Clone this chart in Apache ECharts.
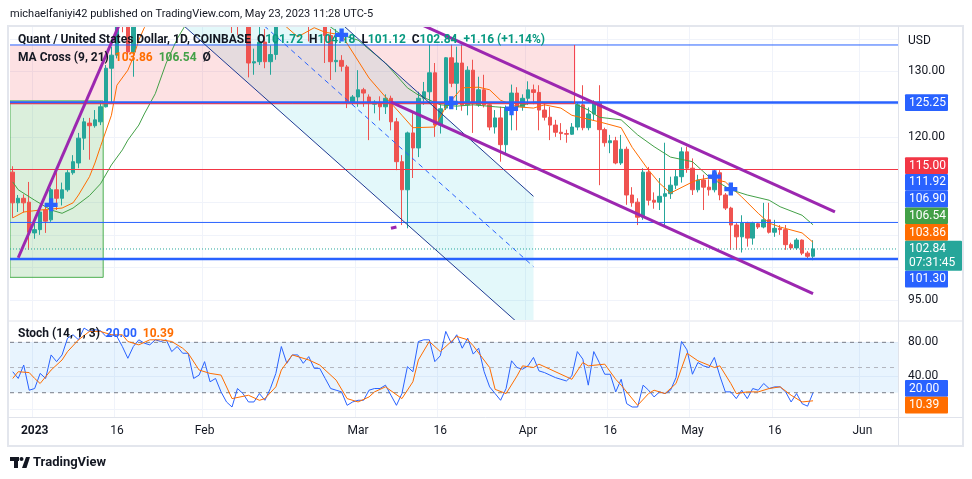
<!DOCTYPE html>
<html>
<head>
<meta charset="utf-8">
<title>QNT/USD 1D</title>
<script src="https://cdn.jsdelivr.net/npm/echarts@6.0.0/dist/echarts.min.js"></script>
<style>
  html, body { margin: 0; padding: 0; background: #ffffff; }
  #main { width: 972px; height: 479px; }
</style>
</head>
<body>
<div id="main"></div>
<script>
// Quant / United States Dollar, 1D, COINBASE - one candle a day from 2022-12-28
var firstDay = '2022-12-28';
var dayCount = 162;   // the time scale runs on into early June

// [open, close, low, high]
var candles = [
  // Dec 28 - 31
  [114.6, 109.9, 107.6, 115.5], [109.9, 110.6, 108.5, 111.1], [110.6, 109.9, 108.4, 111.2], [110.0, 105.4, 102.7, 113.1],
  // Jan
  [105.3, 105.8, 104.4, 107.0], [105.8, 108.5, 105.0, 109.1], [108.8, 107.1, 105.3, 109.6], [107.3, 111.9, 107.0, 112.2],
  [111.9, 110.6, 108.8, 114.6], [110.6, 111.9, 109.5, 113.0], [111.9, 114.5, 111.6, 114.9], [114.5, 116.2, 114.2, 117.2],
  [116.0, 119.8, 115.2, 120.6], [119.8, 122.3, 118.0, 122.9], [122.1, 121.7, 116.5, 122.9], [121.7, 122.6, 121.4, 124.1],
  [122.3, 124.6, 121.8, 125.5], [124.6, 130.5, 124.5, 131.0], [130.5, 132.5, 125.2, 133.8], [132.5, 140.0, 132.0, 141.5],
  [140.0, 137.5, 136.0, 142.0], [137.5, 133.0, 132.0, 139.0], [133.0, 141.5, 129.2, 143.0], [141.5, 137.5, 136.9, 143.5],
  [137.5, 140.0, 137.2, 141.5], [140.0, 139.0, 137.0, 142.0], [139.0, 143.0, 138.5, 144.5], [143.0, 146.0, 142.0, 148.0],
  [146.0, 144.5, 143.0, 147.5], [144.5, 148.0, 143.5, 150.0], [148.0, 146.5, 145.0, 149.5], [146.5, 149.5, 145.5, 151.0],
  [149.5, 147.0, 146.0, 151.5], [147.0, 144.0, 143.0, 148.0], [144.0, 146.0, 142.5, 147.5],
  // Feb
  [146.0, 148.5, 145.0, 150.0], [148.5, 145.0, 144.0, 149.5], [145.0, 146.5, 143.5, 148.0], [146.5, 143.0, 142.0, 147.5],
  [143.0, 144.5, 141.5, 146.0], [144.5, 140.0, 135.9, 145.5], [140.0, 137.5, 135.6, 141.0], [137.5, 139.5, 137.0, 141.0],
  [139.5, 131.3, 129.1, 140.5], [131.3, 131.5, 129.5, 133.5], [131.5, 134.5, 131.0, 137.0], [134.5, 131.5, 130.5, 136.5],
  [131.5, 132.6, 129.5, 134.0], [132.6, 137.5, 131.8, 139.0], [137.5, 139.5, 136.9, 141.0], [139.5, 141.0, 138.5, 142.5],
  [141.0, 139.0, 138.0, 142.0], [139.0, 141.5, 138.5, 143.0], [141.5, 139.0, 138.0, 142.5], [139.0, 137.5, 134.6, 140.0],
  [137.5, 139.0, 137.2, 140.5], [139.0, 138.0, 137.0, 140.0], [138.0, 135.5, 131.3, 139.0], [135.5, 131.5, 128.7, 136.5],
  [131.5, 131.7, 129.9, 136.5], [131.7, 130.8, 130.0, 132.5], [130.7, 125.3, 124.4, 131.0], [125.3, 126.1, 124.9, 126.4],
  // Mar
  [126.1, 127.2, 124.6, 130.2], [127.2, 126.7, 124.6, 127.5], [126.1, 125.3, 119.5, 126.5], [125.0, 125.3, 123.6, 125.6],
  [125.3, 124.6, 122.5, 126.2], [124.6, 125.9, 123.5, 126.5], [125.9, 122.3, 121.0, 126.3], [122.3, 116.2, 114.9, 122.9],
  [116.2, 111.9, 106.5, 117.2], [111.9, 120.6, 106.0, 120.8], [120.6, 118.3, 113.7, 123.8], [118.3, 125.9, 116.9, 126.9],
  [125.9, 126.9, 124.9, 128.4], [126.9, 129.8, 125.3, 134.1], [129.8, 121.8, 120.0, 131.3], [121.8, 124.3, 120.5, 125.0],
  [124.4, 132.1, 124.1, 132.2], [132.1, 128.2, 127.6, 134.1], [128.2, 131.3, 124.1, 133.8], [131.3, 124.9, 124.0, 134.1],
  [124.9, 130.2, 123.3, 130.8], [130.2, 125.2, 120.6, 131.8], [124.9, 127.2, 124.6, 129.2], [127.2, 124.9, 124.5, 129.5],
  [124.9, 121.5, 121.0, 125.0], [121.5, 122.9, 120.5, 124.1], [122.9, 118.8, 116.2, 124.6], [118.8, 124.4, 117.5, 124.8],
  [124.4, 126.7, 121.0, 128.0], [126.7, 124.6, 121.0, 127.6], [124.6, 125.9, 124.0, 126.5],
  // Apr
  [125.9, 127.2, 124.9, 128.5], [127.2, 126.8, 125.0, 128.0], [126.8, 124.1, 121.0, 127.9], [124.1, 123.0, 122.5, 125.3],
  [123.0, 121.8, 119.5, 124.6], [121.8, 120.7, 120.0, 122.6], [120.7, 120.5, 119.5, 122.1], [120.5, 120.4, 119.1, 121.1],
  [120.4, 121.5, 120.3, 122.1], [121.5, 124.9, 121.0, 125.3], [124.9, 121.4, 121.0, 127.9], [121.4, 123.5, 121.0, 124.5],
  [123.5, 125.3, 122.5, 125.6], [125.3, 121.1, 112.6, 127.9], [121.1, 119.1, 118.5, 121.4], [119.1, 119.4, 117.5, 120.3],
  [119.4, 116.0, 115.8, 120.0], [116.0, 118.1, 115.7, 120.3], [118.1, 111.1, 109.6, 118.5], [111.1, 109.9, 109.3, 112.3],
  [110.0, 107.7, 106.5, 110.6], [107.7, 114.6, 107.3, 115.2], [114.6, 110.3, 109.5, 115.4], [110.3, 110.0, 109.0, 111.5],
  [110.0, 110.9, 108.8, 113.7], [110.9, 111.3, 106.2, 119.1], [111.3, 112.6, 110.5, 113.9], [112.6, 113.9, 112.0, 115.0],
  [113.9, 117.7, 113.0, 118.4], [117.7, 115.2, 114.5, 118.5],
  // May 1 - 23
  [115.2, 111.9, 111.1, 116.7], [111.9, 113.4, 111.5, 114.2], [113.4, 112.3, 108.8, 114.2], [112.3, 111.9, 111.0, 113.5],
  [111.9, 114.5, 111.5, 115.0], [114.5, 111.1, 110.3, 114.9], [111.1, 109.1, 108.8, 111.4], [109.1, 106.5, 102.7, 109.3],
  [106.5, 104.7, 102.7, 106.8], [104.7, 106.8, 102.3, 108.0], [106.8, 104.5, 103.2, 107.0], [104.5, 106.8, 103.5, 107.0],
  [106.7, 106.2, 105.9, 106.9], [106.2, 107.3, 106.0, 109.9], [107.3, 105.4, 105.2, 109.9], [105.4, 106.0, 104.7, 107.3],
  [106.0, 105.8, 105.0, 106.5], [105.8, 103.5, 102.7, 106.5], [103.5, 103.0, 102.7, 103.8], [103.0, 104.2, 102.7, 104.5],
  [104.2, 102.2, 101.9, 104.3], [102.2, 101.72, 101.2, 102.5], [101.72, 102.84, 101.12, 104.18]
];

// MA Cross (9, 21)
var ma9 = [
  ['2022-12-28', 107.6], ['2022-12-30', 108.5], ['2023-01-02', 108.8], ['2023-01-06', 109.1], ['2023-01-08', 109.9],
  ['2023-01-09', 111.1], ['2023-01-11', 113.9], ['2023-01-12', 116.0], ['2023-01-13', 118.5], ['2023-01-15', 123.3],
  ['2023-01-16', 127.9], ['2023-01-18', 130.2], ['2023-01-19', 132.2], ['2023-01-20', 134.8], ['2023-01-21', 136.7],
  ['2023-01-24', 139.5], ['2023-01-29', 144.0], ['2023-02-04', 145.0], ['2023-02-10', 140.5], ['2023-02-15', 137.5],
  ['2023-02-18', 135.3], ['2023-02-21', 136.7], ['2023-02-23', 136.0], ['2023-02-26', 135.6], ['2023-03-03', 129.0],
  ['2023-03-06', 126.1], ['2023-03-09', 123.3], ['2023-03-11', 121.4], ['2023-03-15', 121.5], ['2023-03-17', 124.6],
  ['2023-03-20', 127.5], ['2023-03-23', 127.6], ['2023-03-25', 127.2], ['2023-03-27', 125.6], ['2023-03-30', 124.6],
  ['2023-04-02', 124.4], ['2023-04-04', 124.9], ['2023-04-07', 124.4], ['2023-04-09', 123.3], ['2023-04-14', 122.3],
  ['2023-04-18', 121.4], ['2023-04-20', 118.4], ['2023-04-23', 114.9], ['2023-04-25', 112.9], ['2023-04-27', 111.4],
  ['2023-05-01', 113.1], ['2023-05-02', 113.4], ['2023-05-04', 113.7], ['2023-05-07', 113.1], ['2023-05-10', 110.8],
  ['2023-05-13', 108.3], ['2023-05-15', 106.8], ['2023-05-17', 106.2], ['2023-05-21', 105.3], ['2023-05-23', 103.86]
];
var ma21 = [
  ['2022-12-28', 113.1], ['2022-12-29', 111.9], ['2023-01-01', 110.3], ['2023-01-04', 108.8], ['2023-01-06', 108.3],
  ['2023-01-08', 109.1], ['2023-01-11', 111.0], ['2023-01-13', 112.8], ['2023-01-15', 115.7], ['2023-01-17', 118.0],
  ['2023-01-18', 119.5], ['2023-01-20', 121.8], ['2023-01-21', 123.5], ['2023-01-23', 126.6], ['2023-01-25', 131.3],
  ['2023-01-27', 135.0], ['2023-01-29', 137.8], ['2023-02-04', 141.0], ['2023-02-11', 142.0], ['2023-02-18', 139.5],
  ['2023-02-24', 136.8], ['2023-02-26', 135.6], ['2023-03-01', 134.8], ['2023-03-06', 131.3], ['2023-03-10', 127.5],
  ['2023-03-12', 126.4], ['2023-03-16', 124.9], ['2023-03-19', 124.7], ['2023-03-22', 124.9], ['2023-03-26', 124.6],
  ['2023-03-29', 124.4], ['2023-04-02', 125.3], ['2023-04-06', 125.3], ['2023-04-09', 125.3], ['2023-04-12', 124.1],
  ['2023-04-14', 123.0], ['2023-04-18', 122.6], ['2023-04-21', 120.3], ['2023-04-24', 118.5], ['2023-04-27', 116.9],
  ['2023-05-01', 116.2], ['2023-05-04', 113.9], ['2023-05-08', 111.9], ['2023-05-11', 111.1], ['2023-05-15', 110.3],
  ['2023-05-17', 109.3], ['2023-05-21', 108.0], ['2023-05-23', 106.54]
];
var maCrosses = [
  ['2023-01-04', 109.6], ['2023-02-26', 135.6], ['2023-03-18', 125.2],
  ['2023-03-29', 124.3], ['2023-05-05', 113.9], ['2023-05-08', 112.0]
];

// Stoch (14, 1, 3): %K for every candle, %D read at its turning points
var stochK = [
  45, 37, 53, 23, 25, 43, 37, 65, 57, 65,
  85, 89, 83, 97, 93, 95, 94, 87, 89, 87,
  75, 61, 75, 83, 79, 77, 83, 81, 83, 69,
  75, 67, 67, 37, 41, 57, 33, 37, 21, 9,
  3, 25, 19, 9, 9, 19, 11, 25, 43, 75,
  55, 65, 65, 55, 63, 49, 49, 37, 25, 23,
  21, 5, 9, 11, 11, 23, 25, 25, 29, 17,
  5, 19, 51, 45, 81, 83, 83, 57, 64, 93,
  79, 89, 73, 85, 66, 73, 45, 27, 19, 11,
  25, 58, 50, 48, 52, 62, 46, 44, 41, 38,
  36, 34, 40, 69, 60, 29, 69, 56, 42, 42,
  21, 36, 7, 3, 3, 29, 23, 15, 21, 19,
  23, 38, 81, 71, 42, 56, 52, 50, 62, 40,
  21, 21, 13, 23, 13, 25, 23, 31, 25, 27,
  27, 21, 9, 19, 7, 4, 20
];
var stochD = [
  ['2022-12-28', 37], ['2022-12-29', 45], ['2022-12-31', 44], ['2023-01-01', 37], ['2023-01-02', 31],
  ['2023-01-04', 47], ['2023-01-06', 59], ['2023-01-07', 69], ['2023-01-09', 83], ['2023-01-11', 93],
  ['2023-01-13', 93], ['2023-01-15', 89], ['2023-01-17', 89], ['2023-01-18', 81], ['2023-01-20', 77],
  ['2023-01-22', 83], ['2023-01-24', 83], ['2023-01-26', 81], ['2023-01-28', 73], ['2023-01-29', 67],
  ['2023-01-31', 47], ['2023-02-02', 43], ['2023-02-04', 41], ['2023-02-06', 13], ['2023-02-09', 17],
  ['2023-02-11', 11], ['2023-02-12', 13], ['2023-02-14', 27], ['2023-02-15', 47], ['2023-02-17', 65],
  ['2023-02-20', 59], ['2023-02-22', 53], ['2023-02-25', 35], ['2023-02-27', 13], ['2023-03-01', 9],
  ['2023-03-03', 15], ['2023-03-04', 21], ['2023-03-06', 27], ['2023-03-09', 13], ['2023-03-11', 33],
  ['2023-03-12', 59], ['2023-03-14', 81], ['2023-03-16', 69], ['2023-03-19', 87], ['2023-03-21', 83],
  ['2023-03-22', 76], ['2023-03-25', 50], ['2023-03-26', 24], ['2023-03-28', 19], ['2023-03-30', 40],
  ['2023-03-31', 52], ['2023-04-02', 50], ['2023-04-03', 54], ['2023-04-05', 48], ['2023-04-09', 36],
  ['2023-04-11', 56], ['2023-04-12', 52], ['2023-04-15', 54], ['2023-04-17', 36], ['2023-04-18', 29],
  ['2023-04-21', 5], ['2023-04-23', 19], ['2023-04-24', 23], ['2023-04-26', 19], ['2023-04-28', 31],
  ['2023-04-30', 67], ['2023-05-02', 58], ['2023-05-05', 50], ['2023-05-06', 52], ['2023-05-08', 31],
  ['2023-05-09', 19], ['2023-05-11', 21], ['2023-05-13', 21], ['2023-05-15', 25], ['2023-05-17', 27],
  ['2023-05-19', 17], ['2023-05-21', 9], ['2023-05-23', 10.39]
];

// time scale
var timeTicks = ['2023-01-01', '2023-01-16', '2023-02-01', '2023-03-01', '2023-03-16',
                 '2023-04-01', '2023-04-16', '2023-05-01', '2023-05-16', '2023-06-01'];
var timeTickLabels = ['2023', '16', 'Feb', 'Mar', '16', 'Apr', '16', 'May', '16', 'Jun'];

// price scale (the rest of the labels sit under the tags)
var priceRange = [91.97, 136.81];
var priceTicks = [95, 100, 105, 110, 115, 120, 125, 130, 135];
var priceLabels = [95, 120, 130];
var stochRange = [-8.9, 104.2];
var stochTicks = [0, 40, 80];
var stochLabels = [40, 80];
var stochLevels = [80, 50, 20];

// drawings, anchored as [date, price]
var riseLine = [['2022-12-29', 101.5], ['2023-01-18', 140.2]];
var fallTop = [['2023-03-08', 138.9], ['2023-05-27', 108.5]];
var fallBottom = [['2023-03-07', 125.3], ['2023-05-23', 96.0]];
var fallStub = [['2023-03-07', 106.0], ['2023-03-08', 106.2]];
var channelLow = [['2023-01-27', 137.9], ['2023-04-02', 89.4]];
var channelHigh = [['2023-01-27', 159.9], ['2023-04-02', 110.9]];
var redZone = ['2023-04-09', 134.06, 125.07];    // right edge, top, bottom
var greenZone = ['2023-01-13', 125.5, 98.5];
var levels = [134.06, 125.25, 115.00, 106.90, 101.30];
var lastPrice = 102.84;

// price scale tags
var priceTags = [125.25, 115.00, 111.92, 106.90, 106.54, 103.86, 102.84, 101.30];
var stochTags = [20.00, 10.39];

// ---------------------------------------------------------------
var FONT = 'Roboto, "Liberation Sans", Arial, sans-serif';
var INK = '#131722';
var UP = '#26a69a', DOWN = '#ef5350';
var BLUE = '#2962ff', RED = '#f23645', ORANGE = '#ff6d00', GREEN = '#43a047';

var days = [];
(function () {
  var t0 = Date.parse(firstDay);
  for (var i = 0; i < dayCount; i++) days.push(new Date(t0 + i * 86400000).toISOString().slice(0, 10));
})();

function isTick(idx, val) { return timeTicks.indexOf(val) >= 0; }
function tickText(val) {
  var k = timeTicks.indexOf(val);
  var s = k >= 0 ? timeTickLabels[k] : '';
  return /^\d{4}$/.test(s) ? '{y|' + s + '}' : s;
}

function line(a, b, color, width, dash) {
  return { type: 'line', shape: { x1: a[0], y1: a[1], x2: b[0], y2: b[1] },
           style: { stroke: color, lineWidth: width, lineDash: dash || null } };
}
function paneClip(cs) {
  return { type: 'rect', shape: { x: cs.x, y: cs.y, width: cs.width, height: cs.height } };
}

function drawUnder(params, api) {
  var cs = params.coordSys;
  var half = api.size([1, 0])[0] / 2;
  var kids = [];
  kids.push({ type: 'polygon',
    shape: { points: [api.coord(channelLow[0]), api.coord(channelLow[1]), api.coord(channelHigh[1]), api.coord(channelHigh[0])] },
    style: { fill: 'rgba(0,188,212,0.11)' } });
  var r1 = api.coord([redZone[0], redZone[1]]), r2 = api.coord([redZone[0], redZone[2]]);
  kids.push({ type: 'rect', shape: { x: cs.x, y: r1[1], width: r1[0] + half - cs.x, height: r2[1] - r1[1] },
    style: { fill: 'rgba(242,54,69,0.15)' } });
  var g1 = api.coord([greenZone[0], greenZone[1]]), g2 = api.coord([greenZone[0], greenZone[2]]);
  kids.push({ type: 'rect', shape: { x: cs.x, y: g1[1], width: g1[0] + half - cs.x, height: g2[1] - g1[1] },
    style: { fill: 'rgba(76,175,80,0.2)', stroke: '#4caf50', lineWidth: 1 } });
  return { type: 'group', clipPath: paneClip(cs), children: kids };
}

function drawOver(params, api) {
  var cs = params.coordSys;
  var right = cs.x + cs.width;
  var half = api.size([1, 0])[0] / 2;
  var kids = [];
  var widths = [1, 2.5, 1, 1, 2.5];
  var colors = [BLUE, BLUE, RED, BLUE, BLUE];
  levels.forEach(function (v, k) {
    var y = api.coord([0, v])[1];
    kids.push(line([cs.x, y], [right, y], colors[k], widths[k]));
  });
  var yl = api.coord([0, lastPrice])[1];
  kids.push(line([cs.x, yl], [right, yl], UP, 1, [1, 2]));
  // red zone edges
  var r1 = api.coord([redZone[0], redZone[1]]), r2 = api.coord([redZone[0], redZone[2]]);
  kids.push(line([cs.x, r2[1]], [r1[0] + half, r2[1]], RED, 1));
  kids.push(line([r1[0] + half, r1[1]], [r1[0] + half, r2[1]], RED, 1));
  // parallel channel
  var navy = '#1f3a93';
  kids.push(line(api.coord(channelLow[0]), api.coord(channelLow[1]), navy, 1));
  kids.push(line(api.coord(channelHigh[0]), api.coord(channelHigh[1]), navy, 1));
  var m0 = api.coord([channelLow[0][0], (channelLow[0][1] + channelHigh[0][1]) / 2]);
  var m1 = api.coord([channelLow[1][0], (channelLow[1][1] + channelHigh[1][1]) / 2]);
  kids.push(line(m0, m1, BLUE, 1, [5, 4]));
  // trend lines
  [riseLine, fallTop, fallBottom, fallStub].forEach(function (seg) {
    kids.push(line(api.coord(seg[0]), api.coord(seg[1]), '#9c27b0', 3));
  });
  return { type: 'group', clipPath: paneClip(cs), children: kids };
}

function drawStochBand(params, api) {
  var cs = params.coordSys;
  var right = cs.x + cs.width;
  var top = api.coord([0, stochLevels[0]])[1], bot = api.coord([0, stochLevels[2]])[1];
  var kids = [{ type: 'rect', shape: { x: cs.x, y: top, width: cs.width, height: bot - top },
                style: { fill: 'rgba(33,150,243,0.1)' } }];
  stochLevels.forEach(function (v, k) {
    var y = api.coord([0, v])[1];
    kids.push(line([cs.x, y], [right, y], k === 1 ? '#b2b5be' : '#787b86', 1, [4, 4]));
  });
  return { type: 'group', children: kids };
}

var chart = echarts.init(document.getElementById('main'));

var axisCommon = {
  type: 'category', data: days, boundaryGap: true,
  axisLine: { show: false }, axisTick: { show: false },
  splitLine: { show: true, interval: isTick, lineStyle: { color: '#f0f3fa', width: 1 } }
};

var option = {
  animation: false,
  backgroundColor: '#ffffff',
  textStyle: { fontFamily: FONT },
  title: [
    { left: 10, top: 9, padding: 0, z: 80,
      text: 'michaelfaniyi42 published on TradingView.com, May 23, 2023 11:28 UTC-5',
      textStyle: { fontSize: 11, fontWeight: 'normal', color: INK, fontFamily: FONT } },
    { left: 18, top: 34, padding: 0,
      text: '{n|Quant / United States Dollar, 1D, COINBASE}  {n|O}{g|101.72}  {n|H}{g|104.18}  {n|L}{g|101.12}  {n|C}{g|102.84}  {g|+1.16 (+1.14%)}',
      textStyle: { fontSize: 12, fontFamily: FONT, rich: {
        n: { color: INK, fontSize: 12, fontFamily: FONT },
        g: { color: '#089981', fontSize: 12, fontFamily: FONT } } } },
    { left: 18, top: 52, padding: 0,
      text: '{n|MA Cross (9, 21)}  {o|103.86}  {gr|106.54}  {n|\u00d8}',
      textStyle: { fontSize: 12, fontFamily: FONT, rich: {
        n: { color: INK, fontSize: 12, fontFamily: FONT },
        o: { color: ORANGE, fontSize: 12, fontFamily: FONT },
        gr: { color: GREEN, fontSize: 12, fontFamily: FONT } } } },
    { left: 18, top: 328, padding: 0,
      text: '{n|Stoch (14, 1, 3)}  {b|20.00}  {o|10.39}',
      textStyle: { fontSize: 12, fontFamily: FONT, rich: {
        n: { color: INK, fontSize: 12, fontFamily: FONT },
        b: { color: BLUE, fontSize: 12, fontFamily: FONT },
        o: { color: ORANGE, fontSize: 12, fontFamily: FONT } } } },
    { left: 908, top: 35, padding: 0, text: 'USD',
      textStyle: { fontSize: 12, fontWeight: 'normal', color: INK, fontFamily: FONT } }
  ],
  grid: [
    { left: 10, top: 27, width: 888, height: 293 },
    { left: 10, top: 322, width: 888, height: 95 }
  ],
  xAxis: [
    Object.assign({ gridIndex: 0, axisLabel: { show: false } }, axisCommon),
    Object.assign({ gridIndex: 1, axisLabel: {
      show: true, interval: isTick, formatter: tickText, color: INK, fontSize: 12, margin: 8, fontFamily: FONT,
      rich: { y: { fontWeight: 'bold', fontSize: 12, color: INK, fontFamily: FONT } } } }, axisCommon)
  ],
  yAxis: [
    { type: 'value', gridIndex: 0, position: 'right', min: priceRange[0], max: priceRange[1],
      axisLine: { show: false }, axisTick: { show: false, customValues: priceTicks },
      axisLabel: { customValues: priceLabels, formatter: function (v) { return v.toFixed(2); },
                   color: INK, fontSize: 12, margin: 10, fontFamily: FONT, padding: [3, 0, 0, 0] },
      splitLine: { show: true, lineStyle: { color: '#f0f3fa' } } },
    { type: 'value', gridIndex: 1, position: 'right', min: stochRange[0], max: stochRange[1],
      axisLine: { show: false }, axisTick: { show: false, customValues: stochTicks },
      axisLabel: { customValues: stochLabels, formatter: function (v) { return v.toFixed(2); },
                   color: INK, fontSize: 12, margin: 10, fontFamily: FONT, padding: [3, 0, 0, 0] },
      splitLine: { show: true, lineStyle: { color: '#f0f3fa' } } }
  ],
  series: [
    { type: 'custom', name: 'zones', xAxisIndex: 0, yAxisIndex: 0, z: 1, silent: true, clip: true,
      data: [[0, 0]], renderItem: drawUnder },
    { type: 'candlestick', name: 'QNTUSD', xAxisIndex: 0, yAxisIndex: 0, z: 3, barWidth: 4, clip: true,
      data: candles,
      itemStyle: { color: UP, color0: DOWN, borderColor: UP, borderColor0: DOWN, borderWidth: 1 } },
    { type: 'line', name: 'MA 9', xAxisIndex: 0, yAxisIndex: 0, z: 4, data: ma9, symbol: 'none',
      lineStyle: { color: ORANGE, width: 1 }, clip: true },
    { type: 'line', name: 'MA 21', xAxisIndex: 0, yAxisIndex: 0, z: 4, data: ma21, symbol: 'none',
      lineStyle: { color: GREEN, width: 1 }, clip: true },
    { type: 'custom', name: 'drawings', xAxisIndex: 0, yAxisIndex: 0, z: 5, silent: true, clip: true,
      data: [[0, 0]], renderItem: drawOver },
    { type: 'scatter', name: 'crosses', xAxisIndex: 0, yAxisIndex: 0, z: 6, data: maCrosses,
      symbol: 'path://M4 0h4v4h4v4h-4v4h-4v-4h-4v-4h4z', symbolSize: 13, itemStyle: { color: BLUE, opacity: 1 } },
    { type: 'custom', name: 'band', xAxisIndex: 1, yAxisIndex: 1, z: 1, silent: true, clip: true,
      data: [[0, 0]], renderItem: drawStochBand },
    { type: 'line', name: '%K', xAxisIndex: 1, yAxisIndex: 1, z: 4, data: stochK, symbol: 'none',
      lineStyle: { color: BLUE, width: 1 } },
    { type: 'line', name: '%D', xAxisIndex: 1, yAxisIndex: 1, z: 4, data: stochD, symbol: 'none',
      lineStyle: { color: ORANGE, width: 1 } }
  ]
};
chart.setOption(option);

// tags on the price scale, stacked the way the scale pushes them apart
function stackTags(values, heights, axisIndex) {
  var items = values.map(function (v, k) {
    return { k: k, h: heights[k], c: chart.convertToPixel({ yAxisIndex: axisIndex }, v) };
  }).sort(function (a, b) { return a.c - b.c; });
  var blocks = items.map(function (it) { return { items: [it], h: it.h, top: it.c - it.h / 2 }; });
  var again = true;
  while (again) {
    again = false;
    for (var b = 0; b < blocks.length - 1; b++) {
      var A = blocks[b], B = blocks[b + 1];
      if (A.top + A.h > B.top + 0.01) {
        var all = A.items.concat(B.items);
        var mean = all.reduce(function (s, it) { return s + it.c; }, 0) / all.length;
        blocks.splice(b, 2, { items: all, h: A.h + B.h, top: mean - (A.h + B.h) / 2 });
        again = true;
        break;
      }
    }
  }
  var out = [];
  blocks.forEach(function (bl) {
    var y = bl.top;
    bl.items.forEach(function (it) { out[it.k] = y; y += it.h; });
  });
  return out;
}

function tag(top, h, w, fill, lines) {
  var kids = [{ type: 'rect', shape: { x: 905, y: top, width: w, height: h, r: 1 }, style: { fill: fill } }];
  lines.forEach(function (s, k) {
    kids.push({ type: 'text', x: 909, y: top + 8.5 + k * 14,
      style: { text: s, fill: '#ffffff', font: '12px ' + FONT, textVerticalAlign: 'middle', verticalAlign: 'middle' } });
  });
  return { type: 'group', z: 50, children: kids };
}

var tagColors = [BLUE, RED, BLUE, BLUE, GREEN, ORANGE, UP, BLUE];
var tagHeights = priceTags.map(function (v) { return v === lastPrice ? 30 : 16.7; });
var tagTops = stackTags(priceTags, tagHeights, 0);
var graphics = [];
priceTags.forEach(function (v, k) {
  var lines = v === lastPrice ? [v.toFixed(2), '07:31:45'] : [v.toFixed(2)];
  graphics.push(tag(tagTops[k], tagHeights[k], v === lastPrice ? 57 : 43, tagColors[k], lines));
});
var sTops = stackTags(stochTags, [16.7, 16.7], 1);
stochTags.forEach(function (v, k) {
  graphics.push(tag(sTops[k], 16.7, 43, k === 0 ? BLUE : ORANGE, [v.toFixed(2)]));
});

// white strip above the price pane (hides candle tops that run past it), frame, separators, logo
graphics.push(
  { type: 'rect', z: 55, shape: { x: 0, y: 0, width: 972, height: 26 }, style: { fill: '#ffffff' } },
  { type: 'rect', z: 60, shape: { x: 8, y: 26, width: 955, height: 420 }, style: { fill: null, stroke: '#e3e6ed', lineWidth: 2 } },
  { type: 'line', z: 60, shape: { x1: 8, y1: 321, x2: 963, y2: 321 }, style: { stroke: '#e0e3eb', lineWidth: 1 } },
  { type: 'line', z: 60, shape: { x1: 8, y1: 417.5, x2: 963, y2: 417.5 }, style: { stroke: '#e0e3eb', lineWidth: 1 } },
  { type: 'line', z: 60, shape: { x1: 898.5, y1: 26, x2: 898.5, y2: 446 }, style: { stroke: '#e0e3eb', lineWidth: 1 } },
  { type: 'group', z: 60, children: [
    { type: 'rect', shape: { x: 10, y: 457, width: 9, height: 4 }, style: { fill: INK } },
    { type: 'rect', shape: { x: 14, y: 457, width: 4, height: 11 }, style: { fill: INK } },
    { type: 'circle', shape: { cx: 21.5, cy: 459, r: 2 }, style: { fill: INK } },
    { type: 'polygon', shape: { points: [[22, 468], [26, 457], [30, 457], [26.5, 468]] }, style: { fill: INK } },
    { type: 'text', x: 33, y: 463, style: { text: 'TradingView', fill: INK, font: 'bold 13px ' + FONT, verticalAlign: 'middle' } }
  ] }
);
chart.setOption({ graphic: graphics });
</script>
</body>
</html>
